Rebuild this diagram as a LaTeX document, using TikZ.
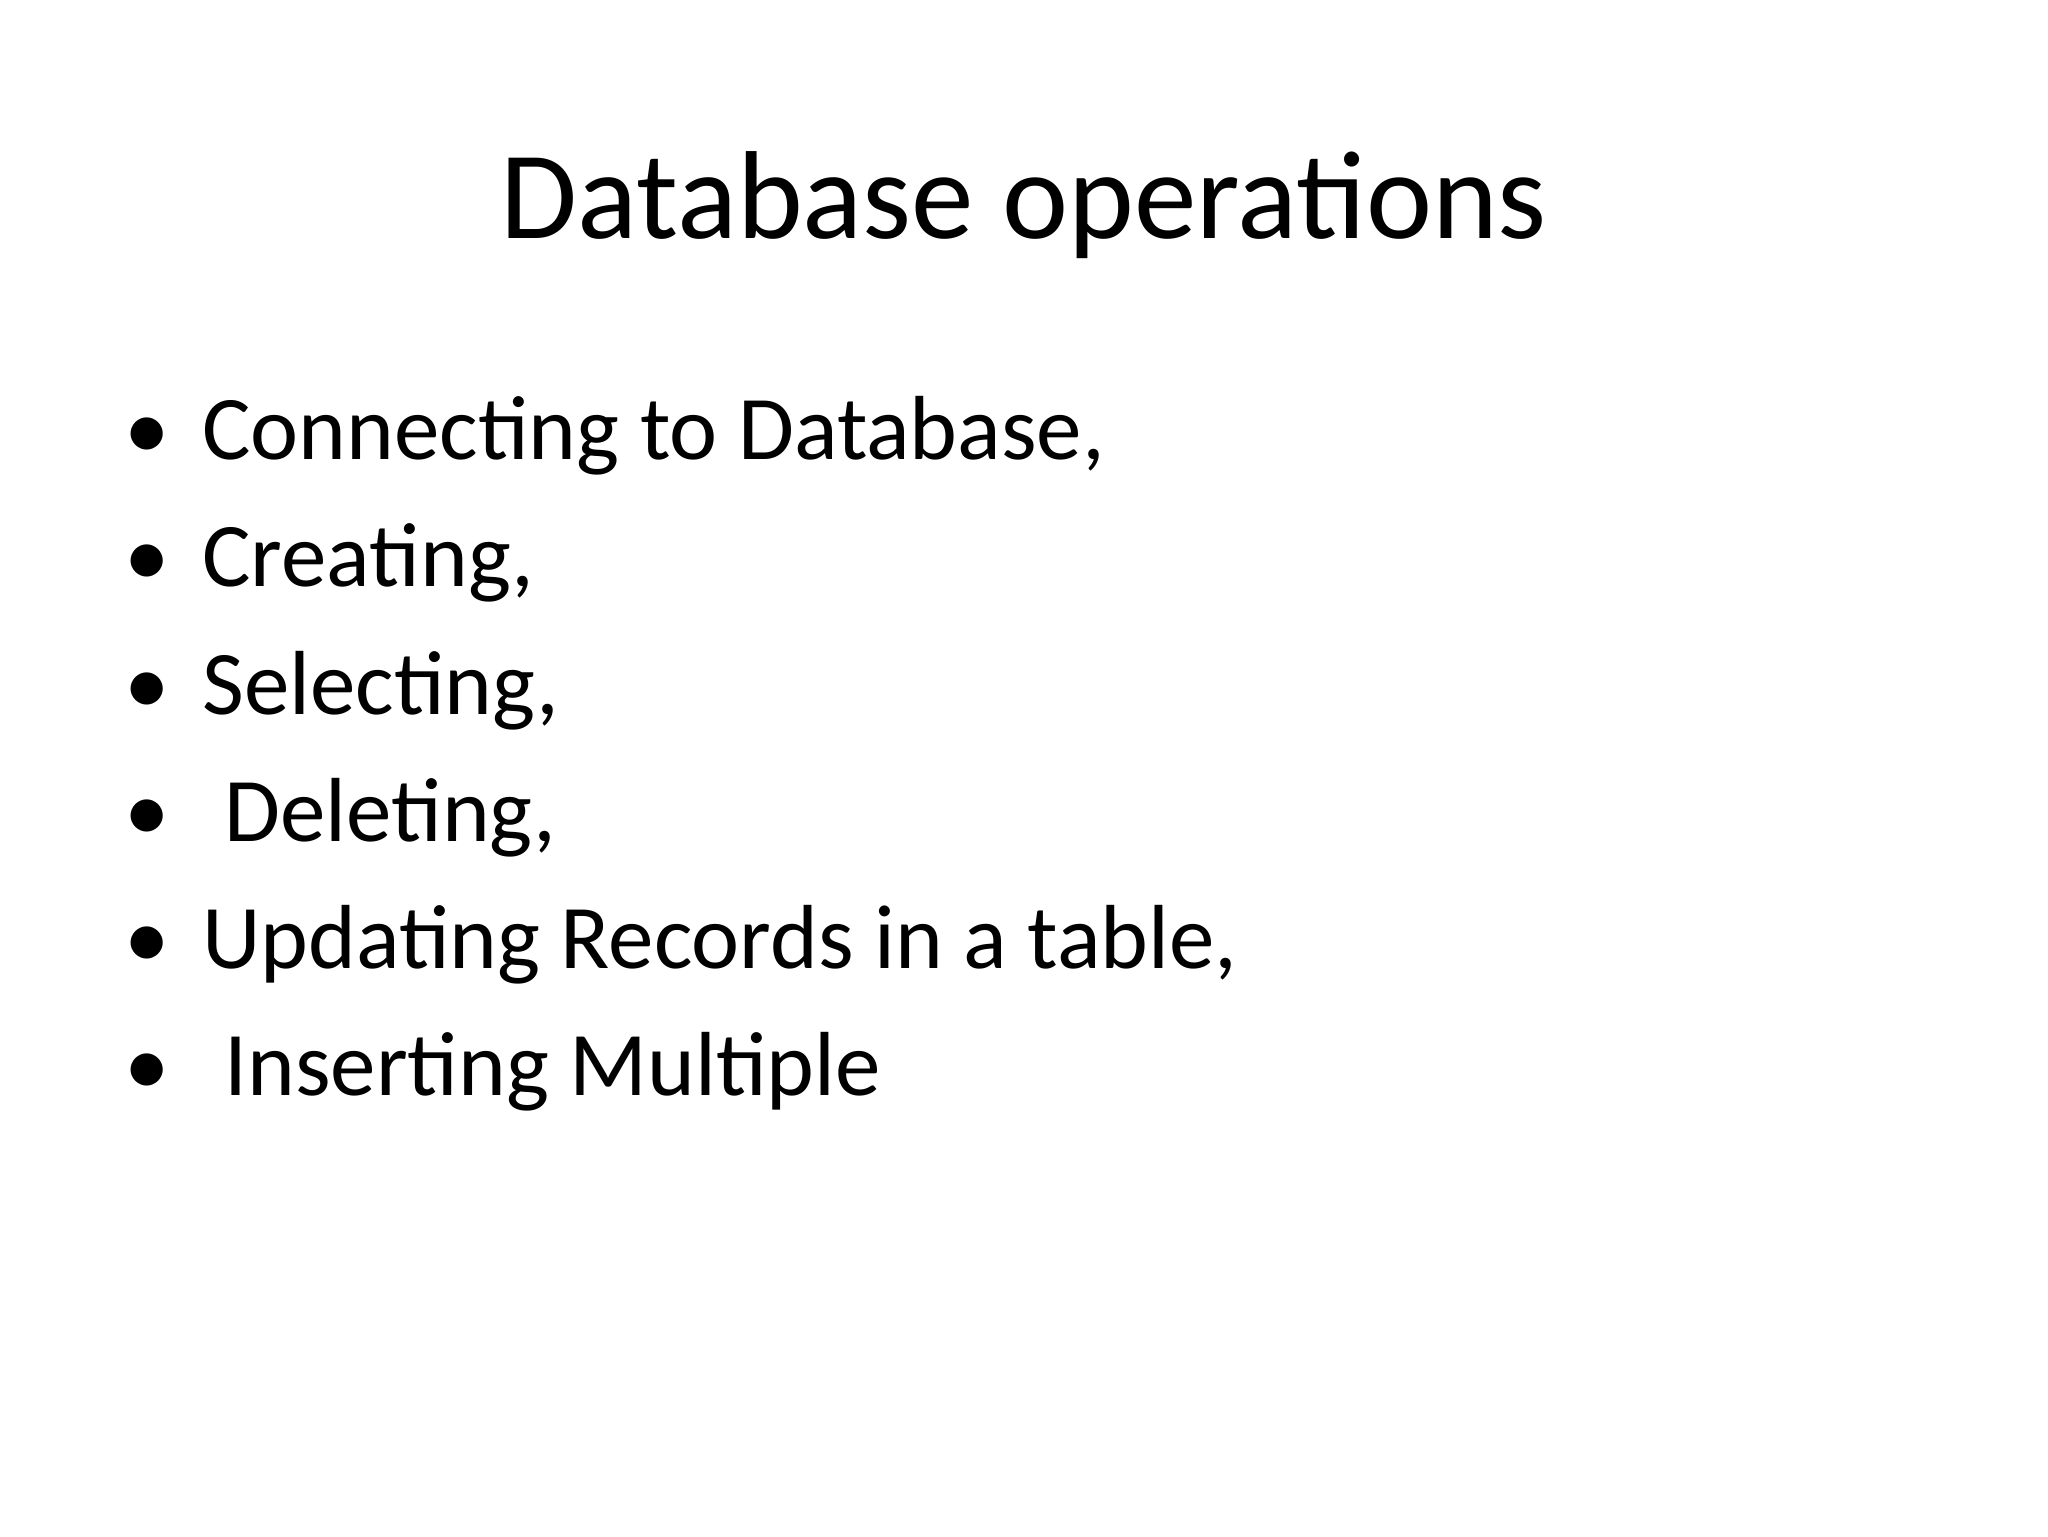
\documentclass[tikz,border=0pt]{standalone}
\usepackage{fontspec}
\setmainfont{Carlito}
\begin{document}
\begin{tikzpicture}[x=1pt,y=1pt,
  item/.style={anchor=base west,inner sep=0pt,font=\fontsize{45.5}{50}\selectfont},
  dot/.style={anchor=base west,inner sep=0pt,font=\fontsize{45.5}{50}\selectfont}]
\useasboundingbox (0,0) rectangle (1024,768);
\node[anchor=base,inner sep=0pt,font=\fontsize{62.6}{70}\selectfont] (title) at (512,648.5) {Database operations};
\foreach \t/\x [count=\i from 0] in {{Connecting to Database,}/101,{Creating,}/101,{Selecting,}/101,{Deleting,}/112,{Updating Records in a table,}/101,{Inserting Multiple}/112}{
  \node[dot] (b\i) at (62,538.1-63.6*\i) {•};
  \node[item] (t\i) at (\x,538.1-63.6*\i) {\t};
}
\end{tikzpicture}
\end{document}
